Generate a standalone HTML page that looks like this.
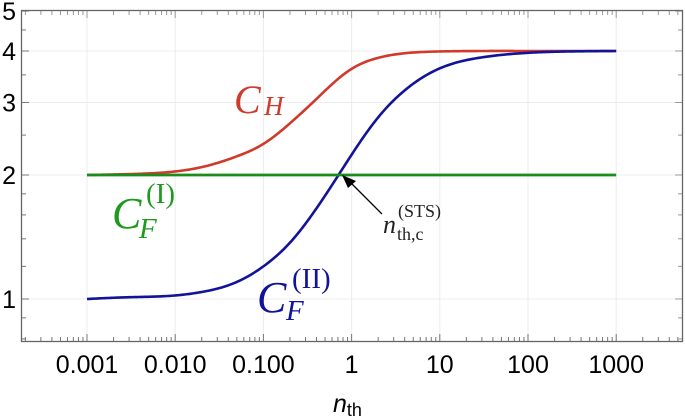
<!DOCTYPE html>
<html><head><meta charset="utf-8"><style>
html,body{margin:0;padding:0;background:#fff;}
svg{display:block;}
.tk{font-family:"Liberation Sans",sans-serif;font-size:25px;fill:#000;}
.lab{font-family:"Liberation Serif",serif;font-style:italic;}
.up{font-family:"Liberation Serif",serif;font-style:normal;}
</style></head><body>
<svg id="chart" width="685" height="419" xmlns="http://www.w3.org/2000/svg">
<g id="grid"></g>
<g id="ticks"></g>
<rect x="21.5" y="10.5" width="661" height="331" fill="none" stroke="#666" stroke-width="1.3"/>
<g id="series"></g>
<text class="lab" x="234" y="113" font-size="40" fill="#d03a2a">C<tspan font-size="27" x="264" y="115">H</tspan></text>
<text class="lab" x="112" y="228" font-size="44" fill="#1f9a1f">C<tspan font-size="29" x="139" y="238">F</tspan><tspan class="up" font-size="29" x="146" y="203">(I)</tspan></text>
<text class="lab" x="257" y="312" font-size="44" fill="#13139a">C<tspan font-size="29" x="286" y="320">F</tspan><tspan class="up" font-size="29" x="292" y="288">(II)</tspan></text>
<line x1="382" y1="214" x2="350" y2="182" stroke="#000" stroke-width="1.3"/>
<polygon points="342,175 356,181 348,188" fill="#000"/>
<text class="lab" x="383" y="233" font-size="26" fill="#222">n<tspan class="up" font-size="18" x="397" y="240">th,c</tspan><tspan class="up" font-size="18" x="398" y="217">(STS)</tspan></text>
<text x="333" y="412" font-family="Liberation Sans,sans-serif" font-style="italic" font-size="25">n<tspan font-style="normal" font-size="18" dy="4">th</tspan></text>
</svg>
<script>
const nVals=[0.001,0.003,0.01,0.02,0.05,0.1,0.2,0.4,0.7,1,2,4,10,30,100,300,1000];
const chVals=[2.0,2.01,2.04,2.09,2.22,2.38,2.67,3.06,3.42,3.62,3.85,3.95,3.99,4.0,4.0,4.0,4.0];
const cf2Vals=[1.0,1.01,1.02,1.04,1.10,1.20,1.37,1.66,1.99,2.24,2.76,3.21,3.63,3.86,3.96,3.99,4.0];
const cf1Vals=[2,2,2,2,2,2,2,2,2,2,2,2,2,2,2,2,2];
const xTicks=[0.001,0.01,0.1,1,10,100,1000];
const xTickLabels=["0.001","0.010","0.100","1","10","100","1000"];
const yTicks=[1,2,3,4,5];
const yTickLabels=["1","2","3","4","5"];
const NS="http://www.w3.org/2000/svg";
function X(n){return 87+88.2*(Math.log10(n)+3);}
function Y(v){return 299-124*Math.log2(v);}
function mk(t,a,p){const e=document.createElementNS(NS,t);for(const k in a)e.setAttribute(k,a[k]);p.appendChild(e);return e;}
const grid=document.getElementById('grid'),ticks=document.getElementById('ticks'),series=document.getElementById('series'),svg=document.getElementById('chart');
xTicks.forEach((t,i)=>{
 const g=mk('line',{x1:X(t),x2:X(t),y1:11,y2:341,stroke:'#ececec','stroke-width':1},grid);
 
 
 const l=mk('text',{x:X(t),y:373,'text-anchor':'middle',class:'tk'},svg);
 l.textContent=xTickLabels[i];
 
 
});
for(let d=-4;d<=3;d++){for(let m=1;m<10;m++){const n=m*Math.pow(10,d);const x=X(n);if(x<22||x>682)continue;
 const len=(m===1)?7:4;
 const a=mk('line',{x1:x,x2:x,y1:341,y2:341-len,stroke:'#777','stroke-width':1},ticks);
 
 
 const b=mk('line',{x1:x,x2:x,y1:11,y2:11+len,stroke:'#999','stroke-width':1},ticks);
 
 }}
yTicks.forEach((t,i)=>{
 if(t<5){const g=mk('line',{x1:22,x2:682,y1:Y(t),y2:Y(t),stroke:'#ececec','stroke-width':1},grid);
 
 }
 const l=mk('text',{x:16,y:Y(t)+9,'text-anchor':'end',class:'tk'},svg);
 l.textContent=yTickLabels[i];
 
 
});
[0.8,0.9,1,1.2,1.4,1.6,1.8,2,2.5,3,3.5,4,4.5,5].forEach(v=>{const y=Y(v);if(y<11||y>341)return;
 const len=([1,2,3,4,5].includes(v))?7:4;
 const a=mk('line',{x1:22,x2:22+len,y1:y,y2:y,stroke:'#777','stroke-width':1},ticks);
 
 
 const b=mk('line',{x1:682,x2:682-len,y1:y,y2:y,stroke:'#999','stroke-width':1},ticks);
 
 });
function path(vals){
 const xs=nVals.map(X),ys=vals.map(Y),N=xs.length;
 const h=[],al=[0],l=[1],mu=[0],z=[0],c=new Array(N).fill(0),b=[],d=[];
 for(let i=0;i<N-1;i++)h.push(xs[i+1]-xs[i]);
 for(let i=1;i<N-1;i++)al.push(3/h[i]*(ys[i+1]-ys[i])-3/h[i-1]*(ys[i]-ys[i-1]));
 for(let i=1;i<N-1;i++){l[i]=2*(xs[i+1]-xs[i-1])-h[i-1]*mu[i-1];mu[i]=h[i]/l[i];z[i]=(al[i]-h[i-1]*z[i-1])/l[i];}
 l[N-1]=1;z[N-1]=0;
 for(let j=N-2;j>=0;j--){c[j]=z[j]-mu[j]*c[j+1];b[j]=(ys[j+1]-ys[j])/h[j]-h[j]*(c[j+1]+2*c[j])/3;d[j]=(c[j+1]-c[j])/(3*h[j]);}
 let s='M'+xs[0]+','+ys[0];
 for(let j=0;j<N-1;j++){const steps=Math.max(2,Math.ceil(h[j]/2));
  for(let k=1;k<=steps;k++){const t=h[j]*k/steps;s+=' L'+(xs[j]+t).toFixed(2)+','+(ys[j]+b[j]*t+c[j]*t*t+d[j]*t*t*t).toFixed(2);}}
 return s;}
const s1=mk('path',{d:path(chVals),fill:'none',stroke:'#d03a2a','stroke-width':2.6,'stroke-linejoin':'round'},series);


const s2=mk('path',{d:path(cf2Vals),fill:'none',stroke:'#13139a','stroke-width':2.6,'stroke-linejoin':'round'},series);


const s3=mk('path',{d:path(cf1Vals),fill:'none',stroke:'#1a8c1a','stroke-width':2.8},series);


</script>
</body></html>
